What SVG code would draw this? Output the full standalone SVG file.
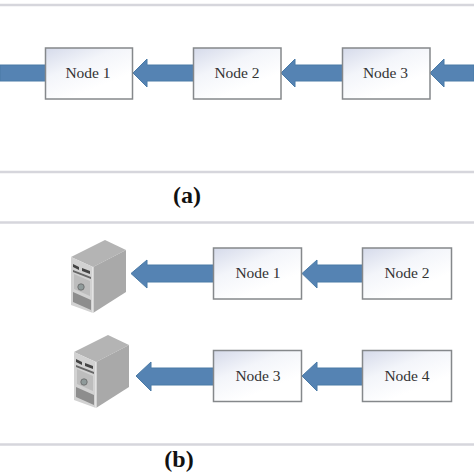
<svg xmlns="http://www.w3.org/2000/svg" xmlns:xlink="http://www.w3.org/1999/xlink" width="474" height="474" viewBox="0 0 474 474">
<style>
.rule{stroke:#d6d6dc;stroke-width:2.4;fill:none}
.box{fill:url(#boxfill);stroke:#85888b;stroke-width:1.5}
.lbl{font-family:"Liberation Serif","Times New Roman",serif;font-size:15.500px;fill:#333;text-anchor:middle}
.cap{font-family:"Liberation Serif","Times New Roman",serif;font-size:24px;font-weight:bold;fill:#111;text-anchor:middle}
.arrow{fill:#5583b3;stroke:#4a7aa6;stroke-width:1;stroke-linejoin:round}
</style>
<defs>
<linearGradient id="boxfill" x1="0" y1="0" x2="0.7" y2="1">
<stop offset="0" stop-color="#d5daea"/><stop offset="0.4" stop-color="#f3f5fa"/><stop offset="0.8" stop-color="#ffffff"/>
</linearGradient>
<g id="server">
<polygon points="0,17 34,0 55,10 22,27" fill="#b4b4b4"/>
<polygon points="22,27 55,10 55,52 22,73" fill="#a9a9a9"/>
<polygon points="0,17 22,27 22,73 0,65" fill="#d2d2d2"/>
<path d="M22,27V73" stroke="#eeeeee" stroke-width="1.2"/>
<polygon points="2,24 8,27 8,30 2,27" fill="#444"/>
<polygon points="11,28 19,31 19,34 11,31" fill="#444"/>
<polygon points="2,30 20,37 20,39 2,32" fill="#666"/>
<polygon points="3,34 19,41 19,56 3,49" fill="#bdbdbd"/>
<circle cx="10" cy="47" r="3.2" fill="#8f9a9a" stroke="#666" stroke-width="0.8"/>
<polygon points="2,52 20,60 20,70 2,62" fill="#8d8d8d"/>
</g>
</defs>
<g id="rules">
<line class="rule" x1="0" y1="5" x2="474" y2="5"/>
<line class="rule" x1="0" y1="172" x2="474" y2="172"/>
<line class="rule" x1="0" y1="222.500" x2="474" y2="222.500"/>
<line class="rule" x1="0" y1="444.500" x2="474" y2="444.500"/>
</g>
<g id="connectors">
<rect class="arrow" x="0" y="65" width="46" height="16"/>
<polygon class="arrow" points="133,73 147,59 147,65 194,65 194,81 147,81 147,87"/>
<polygon class="arrow" points="281,73 295,59 295,65 343,65 343,81 295,81 295,87"/>
<polygon class="arrow" points="430,73 444,59 444,65 474,65 474,81 444,81 444,87"/>
<polygon class="arrow" points="131,273.500 147,260 147,265 214,265 214,282 147,282 147,288"/>
<polygon class="arrow" points="302,273.500 317,260 317,265 363,265 363,282 317,282 317,288"/>
<polygon class="arrow" points="136,376 151,362 151,368 214,368 214,385 151,385 151,391"/>
<polygon class="arrow" points="302,376 317,362 317,368 363,368 363,385 317,385 317,391"/>
</g>
<g id="a-node1"><rect class="box" x="45.500" y="48" width="87" height="51"/><text class="lbl" x="88" y="78">Node 1</text></g>
<g id="a-node2"><rect class="box" x="193.500" y="48" width="87.500" height="51"/><text class="lbl" x="237" y="78">Node 2</text></g>
<g id="a-node3"><rect class="box" x="342.500" y="48" width="87.500" height="51"/><text class="lbl" x="385.500" y="78">Node 3</text></g>
<g id="b-server1"><use xlink:href="#server" href="#server" x="71" y="240"/></g>
<g id="b-server2"><use xlink:href="#server" href="#server" x="74" y="335"/></g>
<g id="b-node1"><rect class="box" x="213.500" y="248" width="88" height="51"/><text class="lbl" x="258" y="278">Node 1</text></g>
<g id="b-node2"><rect class="box" x="362.500" y="248" width="89" height="51"/><text class="lbl" x="407" y="278">Node 2</text></g>
<g id="b-node3"><rect class="box" x="213.500" y="350.500" width="88" height="51"/><text class="lbl" x="258" y="381">Node 3</text></g>
<g id="b-node4"><rect class="box" x="362.500" y="350.500" width="89" height="51"/><text class="lbl" x="407" y="381">Node 4</text></g>
<text class="cap" x="187" y="203">(a)</text>
<text class="cap" x="179" y="467">(b)</text>
</svg>
